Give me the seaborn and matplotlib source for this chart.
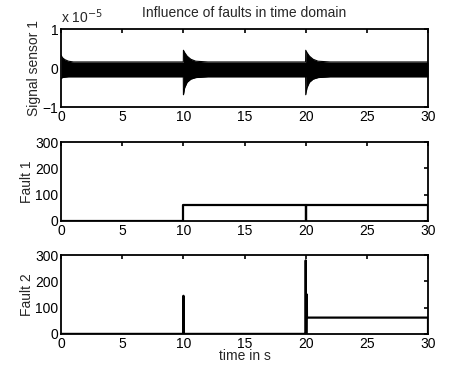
import matplotlib
matplotlib.use("Agg")
import matplotlib.pyplot as plt
import numpy as np
import pandas as pd
import seaborn as sns

# signal sensor 1 envelope (units of 1e-5)
env_t = [0, 0.1, 0.3, 0.6, 1.0, 9.99, 10.0, 10.1, 10.3, 10.6, 11.0, 12.0,
         19.99, 20.0, 20.1, 20.3, 20.6, 21.0, 22.0, 30]
env_upper = [0.33, 0.27, 0.22, 0.18, 0.16, 0.16, 0.46, 0.40, 0.31, 0.23, 0.18, 0.16,
             0.16, 0.46, 0.40, 0.31, 0.23, 0.18, 0.16, 0.16]
env_lower = [-0.26, -0.24, -0.23, -0.22, -0.22, -0.22, -0.68, -0.50, -0.36, -0.28, -0.24, -0.22,
             -0.22, -0.68, -0.50, -0.36, -0.28, -0.24, -0.22, -0.22]

# fault 1
f1_t = [0, 10, 10, 20, 20, 20, 30, 30]
f1_val = [0, 0, 62, 62, 0, 62, 62, 0]

# fault 2
f2_t = [0, 9.99, 10.0, 10.01, 19.99, 20.0, 20.01, 20.08, 20.09, 20.1, 30, 30]
f2_val = [0, 0, 145, 0, 0, 280, 0, 0, 150, 62, 62, 0]

sns.set_style("white")
plt.rcParams["font.family"] = ["Liberation Sans", "DejaVu Sans"]
fs = 10

fig = plt.figure(figsize=(4.74, 3.79), dpi=100)
left, width = 0.129, 0.774
ax1 = fig.add_axes([left, 0.717, width, 0.206])
ax2 = fig.add_axes([left, 0.417, width, 0.208])
ax3 = fig.add_axes([left, 0.119, width, 0.208])

env = pd.DataFrame({"t": env_t, "upper": env_upper, "lower": env_lower})
ax1.fill_between(env["t"], env["lower"], env["upper"], color="black", lw=0)
sns.lineplot(data=env, x="t", y="upper", ax=ax1, color="black", lw=0.8, estimator=None, sort=False)
sns.lineplot(data=env, x="t", y="lower", ax=ax1, color="black", lw=0.8, estimator=None, sort=False)

sns.lineplot(x=f1_t, y=f1_val, ax=ax2, color="black", lw=1.6, estimator=None, sort=False)
sns.lineplot(x=f2_t, y=f2_val, ax=ax3, color="black", lw=1.6, estimator=None, sort=False)

ax1.set_ylim(-1, 1)
ax1.set_yticks([-1, 0, 1])
ax1.set_ylabel("Signal sensor 1", fontsize=fs, labelpad=1)
ax1.set_title("Influence of faults in time domain", fontsize=fs, pad=9)
ax1.text(0.0, 1.04, r"x 10$^{-5}$", transform=ax1.transAxes, fontsize=fs, va="bottom")

ax2.set_ylabel("Fault 1", fontsize=fs, labelpad=1)
ax3.set_ylabel("Fault 2", fontsize=fs, labelpad=1)
ax3.set_xlabel("time in s", fontsize=fs, labelpad=-1)

for ax in (ax1, ax2, ax3):
    ax.set_xlim(0, 30)
    ax.set_xticks([0, 5, 10, 15, 20, 25, 30])
    if ax is not ax1:
        ax.set_ylim(0, 300)
        ax.set_yticks([0, 100, 200, 300])
    for s in ax.spines.values():
        s.set_visible(True)
        s.set_color("black")
        s.set_linewidth(1.3)
    ax.tick_params(direction="in", length=3, width=1.2, top=True, right=True,
                   labelsize=fs, pad=2, colors="black")
    if ax is not ax3:
        ax.set_xlabel("")

fig.savefig("out.png", dpi=100)
